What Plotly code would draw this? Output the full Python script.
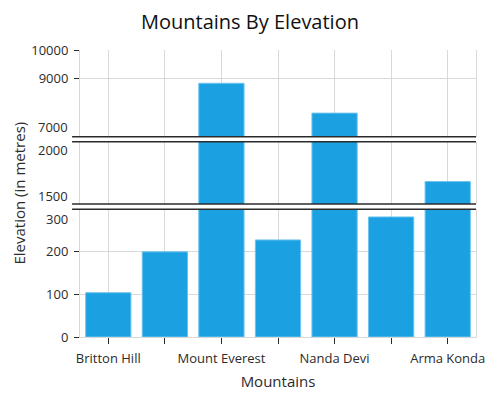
import plotly.graph_objects as go

# ---- data ----
mountains = ["Britton Hill", "Jerimoth Hill", "Mount Everest", "Ebright Azimuth",
             "Nanda Devi", "Mount Wycheproof", "Arma Konda"]
elevation = [104, 200, 8848, 228, 7816, 282, 1680]
x_tick_labels = ["Britton Hill", "", "Mount Everest", "", "Nanda Devi", "", "Arma Konda"]

# axis segments (value ranges) and their tick values
seg_low = [0, 300]
seg_mid = [1500, 2000]
seg_high = [7000, 10000]
low_ticks = [0, 100, 200]
high_ticks = [9000, 10000]
boundary_labels = [(300, "y", -10), (1500, "y2", 8), (2000, "y2", -8), (7000, "y3", 10)]

FONT = "Segoe UI, Open Sans, sans-serif"
BAR = "#1BA1E2"
GRID = "#D9D9D9"
DARK = "#2B2B2B"

# page body has an 8px margin: figure drawn at offset (8, 8)
W, H = 492, 388
ML, MR, MT, MB = 72, 24, 42, 59

# domains (fractions of plot height)
d_low = [0.0, 0.445]
d_mid = [0.4634, 0.6805]
d_high = [0.6979, 1.0]

fig = go.Figure()
for ya in ["y", "y2", "y3"]:
    fig.add_trace(go.Bar(x=mountains, y=elevation, xaxis="x", yaxis=ya,
                         marker=dict(color=BAR, line=dict(color="#6CC4EE", width=1)),
                         width=0.8, showlegend=False))

common_y = dict(showline=True, linecolor=GRID, linewidth=1, mirror=True,
                gridcolor=GRID, gridwidth=1, zeroline=False, tickformat="d",
                tickfont=dict(family=FONT, size=13, color=DARK),
                ticks="outside", ticklen=5, tickcolor=DARK, tickwidth=1,
                ticklabelstandoff=3)

fig.update_layout(
    width=W, height=H,
    margin=dict(l=ML, r=MR, t=MT, b=MB, autoexpand=False),
    paper_bgcolor="white", plot_bgcolor="white",
    bargap=0.2,
    title=dict(text="Mountains By Elevation", x=(250 - 8 - ML) / (W - ML - MR),
               xref="paper", xanchor="center",
               y=1 - 14 / H, yanchor="middle",
               font=dict(family=FONT, size=20, color="#111111")),
    xaxis=dict(categoryorder="array", categoryarray=mountains,
               tickvals=mountains, ticktext=x_tick_labels,
               showline=True, linecolor=GRID, showgrid=True, gridcolor=GRID,
               ticks="outside", ticklen=6, tickcolor=DARK, ticklabelstandoff=3,
               tickfont=dict(family=FONT, size=13, color=DARK),
               title=dict(text="Mountains", font=dict(family=FONT, size=15, color=DARK),
                          standoff=10),
               anchor="y", range=[-0.5, 6.5]),
    yaxis=dict(domain=d_low, range=seg_low, tickvals=low_ticks, showgrid=True, **common_y),
    yaxis2=dict(domain=d_mid, range=seg_mid, tickvals=[], showgrid=False, anchor="x",
                **common_y),
    yaxis3=dict(domain=d_high, range=seg_high, tickvals=high_ticks, showgrid=True, anchor="x",
                **common_y),
)

# break lines
for yv in [d_low[1], d_mid[0], d_mid[1], d_high[0]]:
    fig.add_shape(type="line", xref="paper", yref="paper", x0=-0.02, x1=1.0,
                  y0=yv, y1=yv, line=dict(color=DARK, width=1.5))

# boundary labels of the broken axis
for val, ref, shift in boundary_labels:
    fig.add_annotation(x=0, xref="paper", y=val, yref=ref, text=str(val),
                       showarrow=False, xanchor="right", xshift=-10, yshift=shift,
                       font=dict(family=FONT, size=13, color=DARK))

fig.add_annotation(x=(10 - ML) / (W - ML - MR), xref="paper", y=0.5, yref="paper",
                   xanchor="center", yanchor="middle",
                   text="Elevation (in metres)", textangle=-90, showarrow=False,
                   font=dict(family=FONT, size=15, color=DARK))

fig.write_html("out.html")
